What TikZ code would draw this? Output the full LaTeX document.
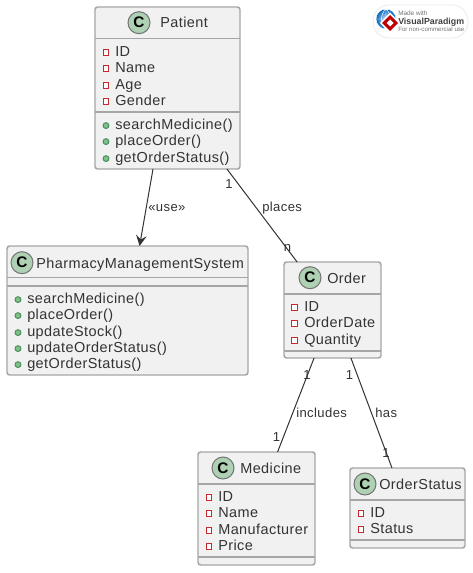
\documentclass[tikz,border=0pt]{standalone}
\usepackage{fontspec}
\setmainfont{Liberation Sans}
\newfontfamily\umlfont[LetterSpace=3]{Liberation Sans}
\usetikzlibrary{arrows.meta,calc}
\definecolor{umlborder}{HTML}{A6A6A6}
\definecolor{umlfill}{HTML}{F1F1F1}
\definecolor{umltext}{HTML}{333333}
\definecolor{spot}{HTML}{ADD1B2}
\definecolor{attrred}{HTML}{C82930}
\definecolor{methgreen}{HTML}{3E8E5E}
\definecolor{methfill}{HTML}{84BE84}
\tikzset{
  x=0.75pt,y=-0.75pt,
  classbox/.style={draw=umlborder,fill=umlfill,line width=1.1pt,rounded corners=2pt,inner sep=0,outer sep=0,anchor=north west},
  classname/.style={inner sep=0,anchor=base west,text=umltext,font=\umlfont\fontsize{10.85pt}{12pt}\selectfont},
  member/.style={classname},
  edgelabel/.style={inner sep=0,anchor=base west,text=umltext,font=\umlfont\fontsize{9.8pt}{12pt}\selectfont},
  divider/.style={draw=umlborder,line width=1.1pt},
  link/.style={draw=umltext,line width=0.75pt},
  spotc/.style={circle,draw=black!55,fill=spot,line width=0.75pt,minimum size=16.5pt,inner sep=0,font=\fontsize{11.5pt}{12pt}\selectfont\bfseries},
  attricon/.style={draw=attrred,fill=white,line width=0.7pt,minimum size=4.4pt,inner sep=0},
  methicon/.style={circle,draw=methgreen,fill=methfill,line width=0.7pt,minimum size=4.4pt,inner sep=0},
}
\newcommand{\umlbox}[5]{\node[classbox,minimum width=#4*0.75pt,minimum height=#5*0.75pt] (#1) at (#2,#3) {};}
\newcommand{\umlspot}[3]{\node[spotc] (#1) at (#2,#3) {C};}
\newcommand{\umlattr}[5]{\node[attricon] (#1i) at (#2,#3+0.6) {};\node[member] (#1t) at (#4,#3+4.6) {#5};}
\newcommand{\umlmeth}[5]{\node[methicon] (#1i) at (#2,#3+0.6) {};\node[member] (#1t) at (#4,#3+4.6) {#5};}
\begin{document}
\begin{tikzpicture}
\useasboundingbox (0,0) rectangle (473,573);
\fill[white] (0,0) rectangle (473,573);

% Patient
\umlbox{patient}{95}{7}{145}{162}
\umlspot{patientc}{139}{22.7}
\node[classname] (patientn) at (160,28) {Patient};
\draw[divider] (95,38.7) -- (240,38.7);
\draw[divider] (95,112) -- (240,112);
\umlattr{pa}{106}{52}{115}{ID}
\umlattr{pb}{106}{68}{115}{Name}
\umlattr{pc}{106}{85}{115}{Age}
\umlattr{pd}{106}{101}{115}{Gender}
\umlmeth{pe}{106}{125}{115}{searchMedicine()}
\umlmeth{pf}{106}{141}{115}{placeOrder()}
\umlmeth{pg}{106}{158}{115}{getOrderStatus()}

% PharmacyManagementSystem
\umlbox{pms}{7}{246}{241}{129}
\umlspot{pmsc}{22}{262.7}
\node[classname] (pmsn) at (36,268) {PharmacyManagementSystem};
\draw[divider] (7,277.7) -- (248,277.7);
\draw[divider] (7,286) -- (248,286);
\umlmeth{sa}{18}{299}{27}{searchMedicine()}
\umlmeth{sb}{18}{315}{27}{placeOrder()}
\umlmeth{sc}{18}{332}{27}{updateStock()}
\umlmeth{sd}{18}{348}{27}{updateOrderStatus()}
\umlmeth{se}{18}{364}{27}{getOrderStatus()}

% Order
\umlbox{order}{284}{262}{97}{96}
\umlspot{orderc}{310}{277.7}
\node[classname] (ordern) at (327,283) {Order};
\draw[divider] (284,294) -- (381,294);
\draw[divider] (284,351) -- (381,351);
\umlattr{oa}{294.6}{307}{304}{ID}
\umlattr{ob}{294.6}{323}{304}{OrderDate}
\umlattr{oc}{294.6}{340}{304}{Quantity}

% Medicine
\umlbox{medicine}{198}{452}{117}{113}
\umlspot{medicinec}{223}{468}
\node[classname] (medicinen) at (240,473.5) {Medicine};
\draw[divider] (198,484) -- (315,484);
\draw[divider] (198,557) -- (315,557);
\umlattr{ma}{209}{497}{218}{ID}
\umlattr{mb}{209}{513}{218}{Name}
\umlattr{mc}{209}{530}{218}{Manufacturer}
\umlattr{md}{209}{546}{218}{Price}

% OrderStatus
\umlbox{status}{350}{468}{115}{80}
\umlspot{statusc}{365}{484}
\node[classname] (statusn) at (379,489.5) {OrderStatus};
\draw[divider] (350,500) -- (465,500);
\draw[divider] (350,540) -- (465,540);
\umlattr{ta}{361}{513}{370}{ID}
\umlattr{tb}{361}{529}{370}{Status}

% Connectors
\draw[link,-{Stealth[length=8pt,width=8pt,inset=3pt]}]
  ($(patient.south west)!0.4!(patient.south east)$) -- ($(pms.north west)!0.55!(pms.north east)$);
\draw[link] ($(patient.south west)!0.91!(patient.south east)$) -- ($(order.north west)!0.135!(order.north east)$);
\draw[link] ($(order.south west)!0.31!(order.south east)$) -- ($(medicine.north west)!0.68!(medicine.north east)$);
\draw[link] ($(order.south west)!0.69!(order.south east)$) -- ($(status.north west)!0.365!(status.north east)$);

% Labels
\node[edgelabel] (luse) at (148,212) {«use»};
\node[edgelabel] (lplaces) at (262,212) {places};
\node[edgelabel] (lp1) at (225,189) {1};
\node[edgelabel] (lpn) at (283.5,251) {n};
\node[edgelabel] (lincl) at (296,417) {includes};
\node[edgelabel] (lo1) at (303,379) {1};
\node[edgelabel] (lm1) at (272.5,441) {1};
\node[edgelabel] (lhas) at (375,417) {has};
\node[edgelabel] (lo2) at (345.5,379) {1};
\node[edgelabel] (ls1) at (382,457) {1};

% Logo
\fill[white,draw=black!7,line width=0.7pt,rounded corners=12pt] (373,5) rectangle (468,38);
\shade[inner color=blue!12,outer color=blue!45!cyan!75!black] (386,19) circle[radius=10];
\draw[white,line width=0.35pt] (386,19) circle[radius=10] (376,19) -- (396,19) (386,9) -- (386,29)
  (386,9) .. controls (380,14) and (380,24) .. (386,29) (386,9) .. controls (392,14) and (392,24) .. (386,29);
\fill[white] (390,12.5) -- (400,23) -- (390,33.5) -- (380,23) -- cycle;
\fill[red!75!black] (390,15) -- (398,23) -- (390,31) -- (382,23) -- cycle;
\fill[white] (390,19.5) -- (393.5,23) -- (390,26.5) -- (386.5,23) -- cycle;
\node[inner sep=0,anchor=base west,text=black!55,font=\fontsize{4.8pt}{6pt}\selectfont] (logoa) at (398,16) {Made with};
\node[inner sep=0,anchor=base west,text=black!75,font=\fontsize{6.6pt}{8pt}\selectfont\bfseries] (logob) at (398,25) {VisualParadigm};
\node[inner sep=0,anchor=base west,text=black!55,font=\fontsize{4.6pt}{6pt}\selectfont] (logoc) at (398,32) {For non-commercial use};
\end{tikzpicture}
\end{document}
